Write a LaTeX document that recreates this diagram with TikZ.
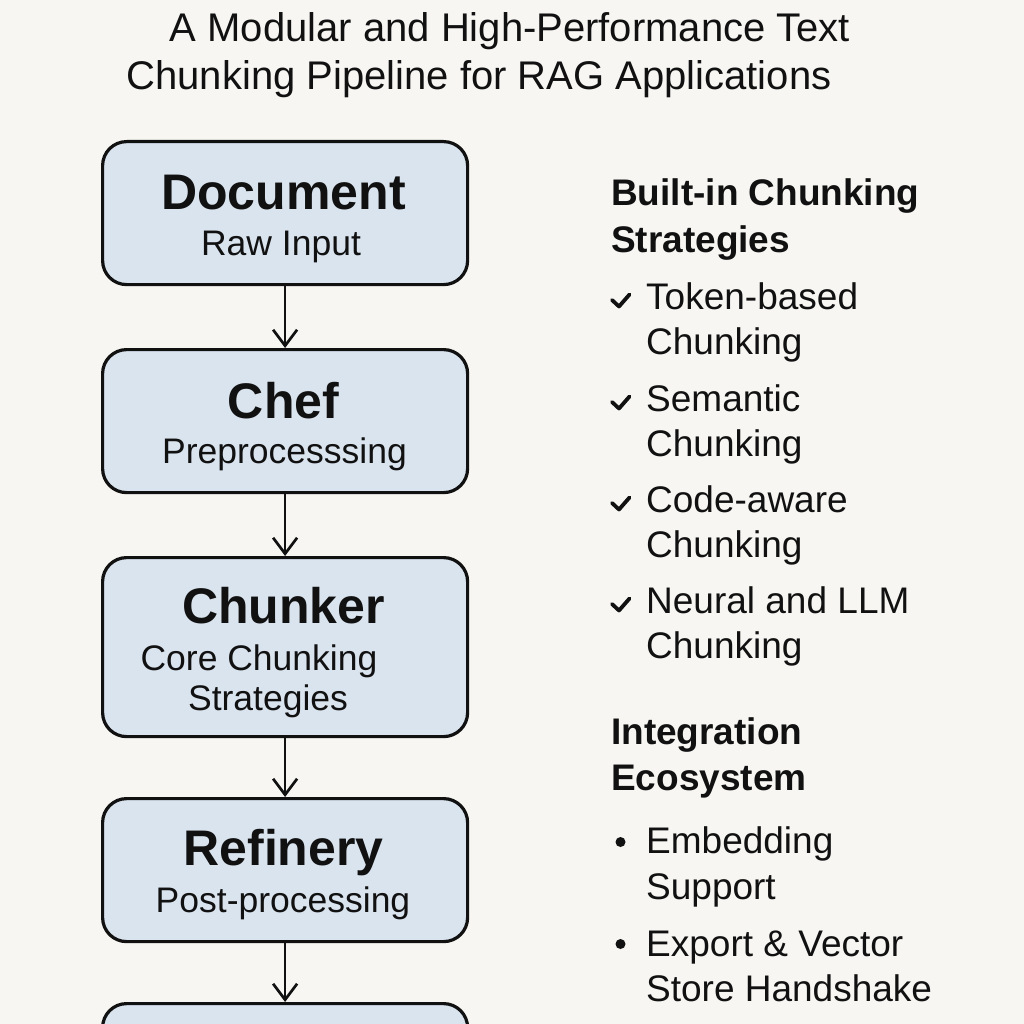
\documentclass[tikz,border=0pt]{standalone}
\usepackage{fontspec}
\setmainfont{Liberation Sans}
\usetikzlibrary{arrows.meta}
\definecolor{bg}{HTML}{F7F6F3}
\definecolor{boxfill}{HTML}{DAE4EF}
\definecolor{ink}{HTML}{111111}
\begin{document}
\begin{tikzpicture}[x=1pt,y=-1pt,
  stage/.style={draw=ink, line width=3.2pt, fill=boxfill, rounded corners=24pt,
    minimum width=365pt, minimum height=143pt, inner sep=0pt, anchor=north west},
  head/.style={font=\fontsize{50}{50}\selectfont\bfseries, anchor=base, inner sep=0pt, text=ink},
  sub/.style={font=\fontsize{35.5}{35.5}\selectfont, anchor=base, inner sep=0pt, text=ink},
  ttl/.style={font=\fontsize{40}{40}\selectfont, anchor=base, inner sep=0pt, text=ink},
  sidehead/.style={font=\fontsize{37}{37}\selectfont\bfseries, anchor=base west, inner sep=0pt, text=ink},
  item/.style={font=\fontsize{37}{37}\selectfont, anchor=base west, inner sep=0pt, text=ink},
  flow/.style={draw=ink, line width=2.7pt, -{Straight Barb[length=16pt,width=24pt,line width=2.7pt]}},
  tick/.style={draw=ink, line width=3.8pt, line cap=round, line join=round},
]
\useasboundingbox (0,0) rectangle (1024,1024);
\fill[bg] (0,0) rectangle (1024,1024);
\clip (0,0) rectangle (1024,1024);

% title
\node[ttl] (t1) at (510,42) {A Modular and High-Performance Text};
\node[ttl] (t2) at (479,90) {Chunking Pipeline for RAG Applications};

% pipeline boxes
\node[stage] (doc) at (101,140) {};
\node[stage] (chef) at (101,348) {};
\node[stage, minimum height=179pt] (chunker) at (101,556) {};
\node[stage] (refinery) at (101,797) {};
\node[stage] (porter) at (101,1002) {};

\node[head] (docH) at (283.5,210) {Document};
\node[sub] (docS) at (281,255) {Raw Input};
\node[head] (chefH) at (283.5,418) {Chef};
\node[sub] (chefS) at (284.5,463) {Preprocesssing};
\node[head] (chunkH) at (283.5,623) {Chunker};
\node[sub] (chunkS1) at (259,670) {Core Chunking};
\node[sub] (chunkS2) at (268,710) {Strategies};
\node[head] (refH) at (283.5,865) {Refinery};
\node[sub] (refS) at (283,912) {Post-processing};

\draw[flow] (doc.south) -- (chef.north);
\draw[flow] (chef.south) -- (chunker.north);
\draw[flow] (chunker.south) -- (refinery.north);
\draw[flow] (refinery.south) -- (porter.north);

% right column
\node[sidehead] (bh1) at (611,206) {Built-in Chunking};
\node[sidehead] (bh2) at (611,252) {Strategies};

\foreach \b/\la/\lb [count=\i] in {309/Token-based/Chunking, 411/Semantic/Chunking, 512/Code-aware/Chunking, 613/Neural and LLM/Chunking}{
  \draw[tick] (612,\b-9) -- (619,\b-2.5) -- (629.5,\b-14.5);
  \node[item] (s\i a) at (646,\b) {\la};
  \node[item] (s\i b) at (646,\b+45) {\lb};
}

\node[sidehead] (ih1) at (611,744) {Integration};
\node[sidehead] (ih2) at (611,790) {Ecosystem};

\fill[ink] (620.5,842) circle (5pt);
\node[item] (e1a) at (646,853) {Embedding};
\node[item] (e1b) at (646,899) {Support};
\fill[ink] (620.5,944) circle (5pt);
\node[item] (e2a) at (646,956) {Export \& Vector};
\node[item] (e2b) at (646,1001) {Store Handshake};
\end{tikzpicture}
\end{document}
